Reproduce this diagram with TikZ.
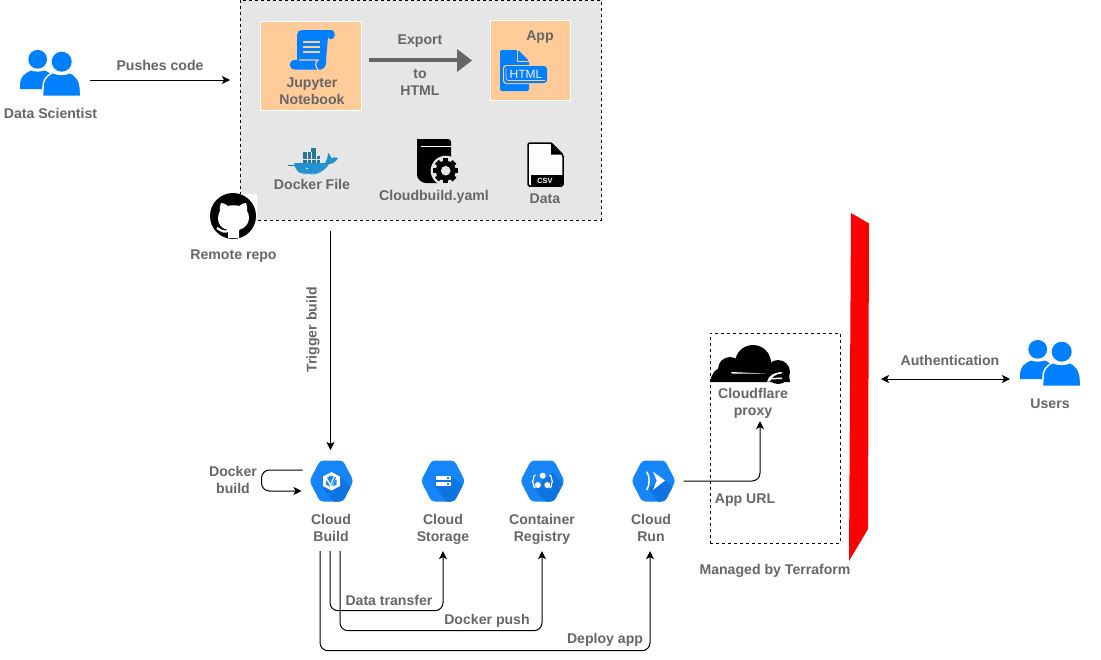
\documentclass[tikz,border=0pt]{standalone}
\usepackage{fontspec}
\setmainfont{Liberation Sans}
\usetikzlibrary{arrows.meta,calc}
\definecolor{txt}{HTML}{666666}
\definecolor{iconblue}{HTML}{007FFF}
\definecolor{hexblue}{HTML}{1585F8}
\definecolor{hexdark}{HTML}{0E74E2}
\definecolor{boxgray}{HTML}{E6E6E6}
\definecolor{orangebox}{HTML}{FFCC99}
\definecolor{whaleblue}{HTML}{2393CF}
\definecolor{whaledark}{HTML}{2A7596}
\tikzset{
 lab/.style={font=\fontsize{14.1}{17}\selectfont\bfseries, text=txt, align=center, inner sep=0pt},
 conn/.style={draw=black, line width=1pt, rounded corners=8pt},
 tip/.style={-{Stealth[length=8pt,width=8pt,inset=2pt]}},
 twotip/.style={{Stealth[length=8pt,width=8pt,inset=2pt]}-{Stealth[length=8pt,width=8pt,inset=2pt]}},
 ghost/.style={inner sep=0pt, outer sep=0pt},
 dashbox/.style={draw=black, line width=1pt, dash pattern=on 3pt off 3pt},
 orange/.style={fill=orangebox, draw=white, line width=1pt},
}
\newcommand{\peopleicon}[2]{%
 \begin{scope}[shift={(#1,#2)}]
  \fill[iconblue] (17.7,9.3) circle (9.4);
  \fill[iconblue] (0,39) -- (0,34) .. controls (1,26) and (4,24) .. (11,20.5) .. controls (14,22) and (21,22) .. (25,20.5) .. controls (30,23) and (32,25) .. (33,27) -- (33,39) -- cycle;
  \fill[iconblue,draw=white,line width=1.5pt] (22.4,46.3) -- (23,38) .. controls (23,30) and (26,26) .. (33,22.5) .. controls (37,25) and (46,25) .. (50,22.5) .. controls (57,26) and (60,31) .. (60.4,38) -- (61,46.3) -- cycle;
  \fill[iconblue] (41.7,11.7) circle (10);
 \end{scope}}
\newcommand{\hexicon}[3]{%
 \begin{scope}[shift={(#1,#2)}]
  \begin{scope}
   \clip[rounded corners=3.5pt] (-22,0) -- (-11.5,-20.5) -- (11.5,-20.5) -- (22,0) -- (11.5,20.5) -- (-11.5,20.5) -- cycle;
   \fill[hexblue] (-23,-22) rectangle (23,22);
   \fill[hexdark] #3
  \end{scope}
 \end{scope}}
\begin{document}
\begin{tikzpicture}[x=1pt,y=-1pt]
\useasboundingbox (0,0) rectangle (1101,659);
\fill[white] (0,0) rectangle (1101,659);

% repo box
\node[ghost, dashbox, fill=boxgray, minimum width=361, minimum height=220] (repo) at (420.5,110) {};
\node[ghost, orange, minimum width=101, minimum height=89] (jup) at (311,65.5) {};
\node[ghost, orange, minimum width=80, minimum height=80] (app) at (530,60) {};

% scroll icon
\fill[iconblue] (297,35) .. controls (297,32) and (299,30) .. (302,30) -- (331,30) .. controls (335,30) and (336,36) .. (333,38.5) .. controls (331,40) and (328,39.5) .. (328,37) -- (326,60) .. controls (326.5,63) and (326,68) .. (321,69.5) -- (317,69.5) -- (295,69.5) .. controls (288,69.5) and (288,60) .. (295,60) -- (297,60) -- cycle;
\draw[orangebox,line width=1.2pt] (299,60) -- (318,60) .. controls (315,62) and (315,67) .. (318,69.5);
\foreach \yy in {42,47,52} \draw[orangebox,line width=1.3pt] (303,\yy) -- (320,\yy);

% html icon
\fill[iconblue,rounded corners=1.5pt] (500,50) -- (518,50) -- (529,61) -- (529,91) -- (500,91) -- cycle;
\draw[orangebox,line width=0.8pt] (517.8,50) -- (517.8,61.5) -- (529,61.5);
\fill[iconblue] (519.5,52.5) -- (519.5,59.5) -- (526.5,59.5) -- cycle;
\fill[orangebox,rounded corners=3pt] (503,65) rectangle (548,84);
\fill[iconblue,rounded corners=3pt] (504,66) rectangle (547,83);
\draw[orangebox,line width=0.8pt,rounded corners=2.5pt] (506,68.5) -- (506,80.5) -- (545,80.5);
\node[ghost,text=white!70!orangebox,font=\fontsize{12}{12}\selectfont] (htmltxt) at (526,74.7) {HTML};

% whale
\fill[whaledark] (303,156) rectangle (320,163);
\fill[whaledark] (311,148) rectangle (317,156);
\fill[whaledark] (303,152) rectangle (311,156);
\draw[boxgray,line width=0.3pt] (303,159.5) -- (320,159.5) (311,152) -- (311,163) (316,148) -- (316,163) (307,152) -- (307,163);
\draw[whaledark,line width=0.8pt] (288,165) -- (296,165);
\fill[whaleblue] (294,163) -- (325,163) .. controls (327,160) and (328,156) .. (328,153) .. controls (331,155) and (331,158) .. (331,158) .. controls (334,157) and (336,157.5) .. (338,158) .. controls (336,162) and (332,164) .. (329,164) .. controls (325,171) and (317,175) .. (308,175) .. controls (299,175) and (295,170) .. (294,163) -- cycle;
\fill[white!85!whaleblue] (300,173) .. controls (304,176) and (312,175) .. (316,173.5) .. controls (310,174) and (304,174) .. (300,173) -- cycle;
\fill[white] (307,168.5) circle (0.9);

% book with gear
\fill[black,rounded corners=3pt] (417,142) .. controls (417,140) and (419,139) .. (421,139) -- (451,139) -- (451,183) -- (423,183) -- (417,178) -- cycle;
\draw[white,line width=1pt] (421,146) -- (451,146);
\fill[boxgray] (445.7,170.7) circle (15);
\foreach \a in {0,45,...,315}
  \fill[black,rotate around={\a:(445.7,170.7)}] (443,158.2) rectangle (448.4,163);
\fill[black] (445.7,170.7) circle (10);
\fill[boxgray] (445.7,170.7) circle (4.8);

% csv
\fill[white!92!boxgray,draw=black,line width=1.5pt,rounded corners=1.5pt] (528,143) -- (551,143) -- (563,155) -- (563,186) -- (528,186) -- cycle;
\fill[black] (551,142) -- (563,154.5) -- (551,154.5) -- cycle;
\fill[black] (531,175) rectangle (563,186);
\node[ghost,text=white!85!boxgray,font=\fontsize{7.5}{8}\selectfont\bfseries] (csvtxt) at (545,180.5) {CSV};

% github
\fill[white] (210,194) rectangle (257,240);
\node[ghost, circle, fill=black, minimum size=46] (gh) at (233,216) {};
\fill[white] (228,238) -- (228,232) .. controls (225,233) and (221,233) .. (219,230) .. controls (221,230) and (224,231) .. (227,230) .. controls (221,228) and (218,224) .. (218,218) .. controls (218,215) and (219,213) .. (220,211) .. controls (219.5,208) and (220,205) .. (221,203) .. controls (223,203) and (226,204) .. (228,206) .. controls (231,205) and (236,205) .. (239,206) .. controls (241,204) and (244,203) .. (246,203) .. controls (247,205) and (247.5,208) .. (247,211) .. controls (248.5,213) and (249,215) .. (249,218) .. controls (249,224) and (245,228) .. (239,230) .. controls (239,232) and (239,235) .. (239,238) -- cycle;
\fill[black] (226,229) .. controls (223,230) and (220,227) .. (219,225) -- (214,226) -- (218,232) -- (227,232) -- cycle;
\draw[white,line width=2.2pt] (217,228) .. controls (220,229) and (221,232) .. (227,231.5);

% hexagons
\hexicon{331.5}{481}{(-6,-6) -- (6,-8) -- (30,18) -- (10,30) -- (-8,8) -- cycle;}
\hexicon{443}{481}{(-8,-5) -- (8,-5) -- (32,15) -- (10,30) -- (-8,5) -- cycle;}
\hexicon{542.5}{481}{(-9,8) -- (10,-8) -- (32,15) -- (12,30) -- cycle;}
\hexicon{653.5}{481}{(-5,6) -- (12,0) -- (30,15) -- (10,30) -- cycle;}
\node[ghost, minimum width=43, minimum height=40] (cb) at (330.5,481) {};
\node[ghost, minimum width=43, minimum height=40] (cs) at (443,481) {};
\node[ghost, minimum width=43, minimum height=40] (cr) at (542,481) {};
\node[ghost, minimum width=43, minimum height=40] (run) at (653,481) {};
% cloud build glyph
\fill[white] (331.5,472) -- (340,476.5) -- (340,486) -- (331.5,490.5) -- (323,486) -- (323,476.5) -- cycle;
\fill[hexblue] (327,477.5) -- (331.5,475.5) -- (336,477.5) -- (332,486) -- cycle;
\fill[hexblue] (335,480) -- (336.5,479.5) -- (336.5,484.5) -- (333,486.5) -- cycle;
\fill[hexblue] (326,480) -- (329,484) -- (330.5,487) -- (326,484.5) -- cycle;
\draw[white,line width=1.1pt] (334.5,476) -- (330,486);
% storage glyph
\fill[white] (436,476) rectangle (451,480);
\fill[white] (436,482) rectangle (451,486);
\fill[hexblue] (447,477.3) rectangle (449,478.7);
\fill[hexblue] (447,483.3) rectangle (449,484.7);
% registry glyph
\draw[white,line width=1.2pt] (535.5,475) .. controls (533,475) and (534,480) .. (532.5,481.5) .. controls (534,483) and (533,488) .. (535.5,488);
\draw[white,line width=1.2pt] (549.5,475) .. controls (552,475) and (551,480) .. (552.5,481.5) .. controls (551,483) and (552,488) .. (549.5,488);
\fill[white] (542.7,475.7) circle (3) (537.9,485) circle (3) (547.3,485) circle (3);
% run glyph
\fill[white] (653,471.7) -- (665,480.5) -- (653,490) -- (656.7,480.7) -- cycle;
\draw[white,line width=1.5pt] (646.7,471.7) .. controls (650,476) and (650,485) .. (646.7,490);

% cloudflare dashed box, wall
\node[ghost, dashbox, minimum width=130, minimum height=210] (tf) at (775,438) {};
\fill[red] (851,213) -- (869,223.5) -- (868,529) -- (849,561) -- cycle;
\coordinate (wall) at (881,379);

% cloud
\fill[black] (753,363) circle (18);
\fill[black] (730,369) circle (12);
\fill[black] (778,372) circle (12);
\fill[black] (710.5,382) .. controls (710.5,375) and (715,368) .. (724,367) -- (780,367) .. controls (786,368) and (790,375) .. (790,382) -- cycle;
\fill[white] (731,372) -- (765,373.5) -- (732,373.5) -- cycle;
\fill[white] (767,381.5) .. controls (769,375) and (774,372.5) .. (782,372) -- (782,373.3) .. controls (776,374) and (771,377) .. (770,381.5) -- cycle;
\fill[white] (770,378) -- (782,377.5) -- (782,379) -- (769,379.5) -- cycle;

% people
\peopleicon{20}{50}
\peopleicon{1020}{340}
\node[ghost, minimum width=70, minimum height=60] (ds) at (55,80) {};
\node[ghost, minimum width=80, minimum height=78] (users) at (1050,379) {};

% labels
\node[lab] (dsl) at (50.5,113.5) {Data Scientist};
\node[lab] (usersl) at (1050,403.5) {Users};
\node[lab] (pushl) at (160,65.5) {Pushes code};
\node[lab] (jupl) at (312,91) {Jupyter\\Notebook};
\node[lab] (expl) at (420,41.5) {Export};
\node[lab] (tol) at (420,82.5) {to\\HTML};
\node[lab] (appl) at (540,37) {App};
\node[lab] (dockl) at (312,184.5) {Docker File};
\node[lab] (cbyl) at (434,197) {Cloudbuild.yaml};
\node[lab] (datal) at (545,198.5) {Data};
\node[lab] (ghl) at (233.5,256) {Remote repo};
\node[lab,rotate=90] (trigl) at (313,330) {Trigger build};
\node[lab] (dbl) at (233,480) {Docker\\build};
\node[lab,minimum height=47] (cbl) at (331,527.5) {Cloud\\Build};
\node[lab,minimum height=43] (csl) at (443,529.5) {Cloud\\Storage};
\node[lab,minimum height=43] (crl) at (542,529.5) {Container\\Registry};
\node[lab,minimum height=47] (runl) at (651,527.5) {Cloud\\Run};
\node[lab] (dtl) at (389,600.5) {Data transfer};
\node[lab] (dpl) at (487,620.5) {Docker push};
\node[lab] (dal) at (605,639.5) {Deploy app};
\node[lab,minimum height=35] (cfl) at (753,403.5) {Cloudflare\\proxy};
\node[lab] (urll) at (745,500.5) {App URL};
\node[lab] (mtl) at (775,571) {Managed by Terraform};
\node[lab] (authl) at (950,360.5) {Authentication};

% connectors
\draw[line width=4pt, draw=txt] (jup.east |- 0,60) ++(7,0) coordinate (exa) -- (459,60) coordinate (exb);
\fill[txt] (457,49) -- (472,60.5) -- (457,72) -- cycle;
\draw[conn,tip,shorten >=10pt] (ds.east) -- (ds.east -| repo.west);
\draw[conn,tip,shorten <=11pt,shorten >=11pt] (repo.south -| cb.north) -- (cb.north);
\draw[conn,tip] ([shift={(-6.5,-11)}]cb.west) -- ++(-41,0) -- ++(0,21) -- ([shift={(-7.5,10)}]cb.west);
\draw[conn,tip] ([xshift=-1]cbl.south) -- ++(0,59.5) -| (csl.south);
\draw[conn,tip] ([xshift=9]cbl.south) -- ++(0,79.5) -| (crl.south);
\draw[conn,tip] ([xshift=-11]cbl.south) -- ++(0,99.5) -| ([xshift=-1]runl.south);
\draw[conn,tip] ([xshift=9]run.east) -| ([xshift=7]cfl.south);
\draw[conn,twotip] (wall) -- (wall -| users.west);
\end{tikzpicture}
\end{document}
